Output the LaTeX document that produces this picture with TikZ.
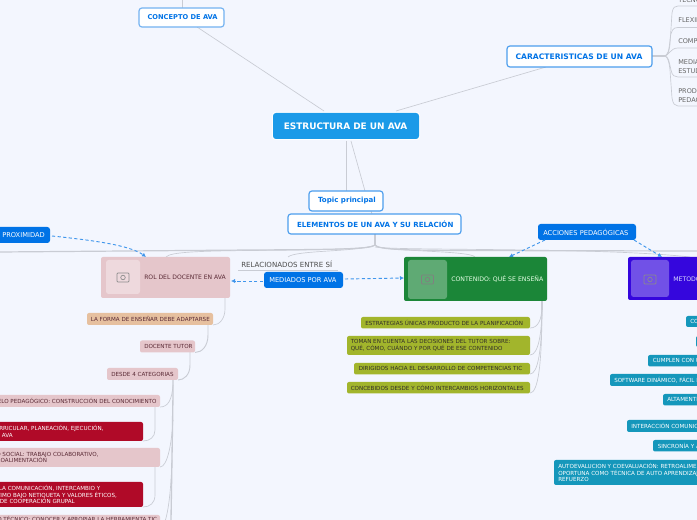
\documentclass[tikz,border=0pt]{standalone}
\usepackage{fontspec}
\setmainfont{DejaVu Sans}
\usetikzlibrary{arrows.meta}
\definecolor{bgc}{HTML}{F3F6FE}
\definecolor{linec}{HTML}{C9CCD4}
\definecolor{bluec}{HTML}{0073E6}
\definecolor{rootc}{HTML}{1B9AE8}
\definecolor{pinkc}{HTML}{E5C6CB}
\definecolor{pinkt}{HTML}{5A2A35}
\definecolor{redc}{HTML}{B00A28}
\definecolor{oliv}{HTML}{A2B52C}
\definecolor{tealc}{HTML}{1597BB}
\definecolor{sand}{HTML}{E6C09F}
\definecolor{greenc}{HTML}{1B8638}
\definecolor{violc}{HTML}{3506DD}
\tikzset{
 x=0.75pt,y=-0.75pt,
 link/.style={draw=linec,line width=0.5pt},
 dashlink/.style={draw=bluec!75!white,line width=0.7pt,dash pattern=on 2.4pt off 1.8pt,-{Latex[length=3pt,width=3.2pt]}},
 topbox/.style={draw=bluec!70!white,line width=0.9pt,fill=white,rounded corners=2.2pt,text=bluec,font=\bfseries\fontsize{#1}{6}\selectfont},
 blueb/.style={fill=bluec,text=white,rounded corners=2pt,font=\fontsize{5}{6}\selectfont},
 smallf/.style={rounded corners=1.5pt,font=\fontsize{4.2}{4.9}\selectfont},
 pinkb/.style={smallf,fill=pinkc,text=pinkt},
 redb/.style={smallf,fill=redc,text=white},
 olivb/.style={smallf,fill=oliv,text=black!85!olive},
 tealb/.style={smallf,fill=tealc,text=white},
 sandb/.style={smallf,fill=sand,text=pinkt},
 graytxt/.style={text=black!60,font=\fontsize{4.9}{6.5}\selectfont},
}
\newcommand{\bx}[8]{% name, x1,y1,x2,y2, style, text-x, text
 \path[#6] (#2,#3) rectangle (#4,#5);
 \node[anchor=west,inner sep=0,align=left,#6,draw=none,fill=none,rounded corners=0pt] (#1) at (#7,{(#3+#5)/2}) {#8};}
\newcommand{\cam}[3]{\draw[#3,line width=0.5pt,rounded corners=0.6pt] (#1-6,#2-4) rectangle (#1+6,#2+5);\draw[#3,line width=0.5pt] (#1,#2+0.5) circle (1.7pt);}
\begin{document}
\begin{tikzpicture}
\clip (0,0) rectangle (697,520);
\fill[bgc] (0,0) rectangle (697,520);
% connectors around root
\coordinate (cTop1) at (182,0);
\coordinate (cRight) at (697,251);
\coordinate (cLeft) at (0,252);
\draw[link] (cTop1) -- (182,8);
\draw[link] (197,27) -- (324,111);
\draw[link] (396,111) -- (546,67);
\draw[link] (346.5,141) -- (346.5,191);
\draw[link] (351,141) -- (365,191);
\draw[link] (371,211) -- (372,214);
% trunk from ELEMENTOS
\draw[link,line width=1.1pt] (375,234) -- (375,245);
\draw[link,line width=0.9pt] (375,245) .. controls (372,249) and (340,249.5) .. (250,250) -- (cLeft);
\draw[link,line width=0.9pt] (375,245) .. controls (378,250) and (410,250) .. (450,250.5) -- (cRight);
\draw[link] (375,245) .. controls (370,250) and (300,250) .. (250,250.5) .. controls (200,251) and (170,252) .. (166,257);
\draw[link] (375,245) .. controls (378,252) and (470,250) .. (475,257);
\draw[link] (375,245) .. controls (360,252) and (295,250) .. (288,257);
\draw[link] (375,247) .. controls (400,251) and (600,247) .. (690,257);
% right upper connectors
\draw[link,line width=0.9pt] (652,56) -- (664,56);
\draw[link] (664,56) .. controls (668,56) and (669,52) .. (670,44) -- (672,13) .. controls (673,7) and (675,6) .. (678,6) -- (697,6);
\draw[link] (664,56) .. controls (668,56) and (669,50) .. (670,40) .. controls (671,30) and (673,27.5) .. (678,27.5) -- (697,27.5);
\draw[link] (664,56) .. controls (669,56) and (670,48) .. (678,48) -- (697,48);
\draw[link] (664,56) .. controls (669,56) and (669,62) .. (671,70) .. controls (672,76) and (675,77) .. (678,77) -- (697,77);
\draw[link] (664,56) .. controls (668,56) and (669,62) .. (670,70) -- (672,98) .. controls (673,104) and (675,106) .. (678,106) -- (697,106);
% left chain
\draw[link] (225,298) -- (225,309) .. controls (225,318) and (220,325) .. (213,325);
\draw[link,line width=0.7pt] (208,325) -- (208,335) .. controls (208,346) and (202,352.5) .. (195,352.5);
\draw[link,line width=0.7pt] (190,352) -- (190,365) .. controls (190,375) and (184,380) .. (178,380);
\draw[link,line width=1pt] (173,380) -- (173,395) -- (171,520);
\draw[link] (173,385) .. controls (172,400) and (168,407) .. (160,407);
\draw[link] (155,407) -- (155,430) .. controls (155,437) and (150,441) .. (143,441);
\draw[link] (173,420) .. controls (172,440) and (168,467) .. (160,467);
\draw[link] (155,467) -- (155,495) .. controls (155,503) and (150,507) .. (143,507);
\draw[link] (172,460) .. controls (171,490) and (168,525) .. (160,530);
% green connectors
\draw[link,line width=0.8pt] (542,301) -- (542,310);
\draw[link] (542,305) .. controls (542,320) and (538,328) .. (530,328);
\draw[link] (542,305) .. controls (542,335) and (538,355) .. (530,355);
\draw[link] (542,305) .. controls (542,350) and (538,374) .. (530,374);
\draw[link] (542,305) .. controls (542,365) and (538,393) .. (530,393);
% relacionados underline
\draw[link] (238,270.5) -- (338,270.5);
% main nodes
\fill[white,rounded corners=2.5pt] (272,112) rectangle (420,140);
\bx{a}{273}{113}{419}{139}{fill=rootc,text=white,rounded corners=2.2pt,font=\bfseries\fontsize{6.7}{8}\selectfont}{283.5}{ESTRUCTURA DE UN AVA}
\bx{b}{139}{8}{224}{27}{topbox=5.0,draw=bluec!55!white}{147}{CONCEPTO DE AVA}
\bx{c}{507}{46}{652}{67}{topbox=5.7}{515}{CARACTERISTICAS DE UN AVA}
\bx{d}{309}{191}{383}{211}{topbox=5.3}{317.5}{Topic principal}
\bx{e}{288}{214}{461}{234}{topbox=5.3}{296.5}{ELEMENTOS DE UN AVA Y SU RELACIÓN}
% dashed
\coordinate (arrRol) at (146,257);
\coordinate (arrRolR) at (231,281);
\coordinate (arrCont) at (404,278);
\coordinate (arrCont2) at (509,257);
\coordinate (arrMet) at (662,257);
\bx{f}{-20}{227}{50}{243}{blueb}{2}{PROXIMIDAD}
\bx{g}{264}{272}{343}{288}{blueb}{269}{MEDIADOS POR AVA}
\bx{h}{538}{224}{636}{240}{blueb}{543}{ACCIONES PEDAGÓGICAS}
\draw[dashlink] (52,236) .. controls (90,240) and (130,245) .. (arrRol);
\draw[dashlink] (263,281) -- (arrRolR);
\draw[dashlink] (345,279) -- (arrCont);
\draw[dashlink] (545,240) -- (arrCont2);
\draw[dashlink] (634,240) -- (arrMet);
\node[anchor=west,inner sep=0,text=black!70,font=\fontsize{5.3}{6}\selectfont] (rel) at (241,264.5) {RELACIONADOS ENTRE SÍ};
% ROL
\bx{r}{101}{257}{230}{298}{pinkb,font=\fontsize{4.55}{5}\selectfont}{144}{ROL DEL DOCENTE EN AVA}
\fill[white,opacity=.35,rounded corners=2pt] (106,260) rectangle (140,294);
\cam{123}{277}{draw=black!45}
\bx{r1}{87}{313}{213}{325}{sandb}{90.5}{LA FORMA DE ENSEÑAR DEBE ADAPTARSE}
\bx{r2}{140}{340.5}{195}{352.5}{pinkb}{144}{DOCENTE TUTOR}
\bx{r3}{107}{368}{178}{380}{pinkb}{111}{DESDE 4 CATEGORIAS}
\bx{r4}{-30}{395}{160}{407}{pinkb}{-16}{MODELO PEDAGÓGICO: CONSTRUCCIÓN DEL CONOCIMIENTO}
\bx{r5}{-30}{422}{143}{441}{redb}{-9}{CURRICULAR, PLANEACIÓN, EJECUCIÓN,\\\hspace*{8pt}AVA}
\bx{r6}{-30}{448}{160}{467}{pinkb}{-24}{MODELO SOCIAL: TRABAJO COLABORATIVO,\\DE RETROALIMENTACIÓN}
\bx{r7}{-30}{482}{143}{507}{redb}{-11}{DE LA COMUNICACIÓN, INTERCAMBIO Y\\ÓPTIMO BAJO NETIQUETA Y VALORES ÉTICOS,\\\hspace*{8pt}DE COOPERACIÓN GRUPAL}
\path[pinkb] (-30,515) rectangle (160,535);
\bx{r8}{-30}{515}{160}{523}{pinkb,fill=none}{-23}{MODELO TÉCNICO: CONOCER Y APROPIAR LA HERRAMIENTA TIC}
% CONTENIDO
\bx{s}{404}{257}{547}{301}{smallf,fill=greenc,text=white!90!green,font=\fontsize{4.65}{5}\selectfont}{451}{CONTENIDO: QUÉ SE ENSEÑA}
\fill[white,opacity=.3,rounded corners=2pt] (408,260) rectangle (447,299);
\cam{427.5}{279}{draw=black!50}
\bx{s1}{361}{317}{530}{328.5}{olivb}{365}{ESTRATEGIAS ÚNICAS PRODUCTO DE LA PLANIFICACIÓN}
\bx{s2}{347}{336}{530}{355}{olivb}{350.5}{TOMAN EN CUENTA LAS DECISIONES DEL TUTOR SOBRE:\\QUÉ, CÓMO, CUÁNDO Y POR QUÉ DE ESE CONTENIDO}
\bx{s3}{354}{363}{530}{374.5}{olivb}{358.5}{DIRIGIDOS HACIA EL DESARROLLO DE COMPETENCIAS TIC}
\bx{s4}{347}{382}{530}{393.5}{olivb}{350.5}{CONCEBIDOS DESDE Y CÓMO INTERCAMBIOS HORIZONTALES}
% METODO
\bx{m}{628}{257}{760}{300}{smallf,fill=violc,text=white!85!blue,font=\fontsize{4.65}{5}\selectfont}{673}{METODOLOGÍA}
\fill[white,opacity=.3,rounded corners=2pt] (631,260) rectangle (669,297);
\cam{650}{279}{draw=black!45}
\bx{t1}{686}{316}{800}{327}{tealb}{690}{CONTENIDOS}
\path[tealb] (696,336) rectangle (800,347);
\bx{t3}{648}{355}{800}{366.5}{tealb}{652.5}{CUMPLEN CON UN}
\bx{t4}{610}{374}{800}{386}{tealb}{614}{SOFTWARE DINÁMICO, FÁCIL DE USAR}
\bx{t5}{663}{394}{800}{405.5}{tealb}{667}{ALTAMENTE}
\bx{t6}{627}{420}{800}{432}{tealb}{631}{INTERACCIÓN COMUNICATIVA}
\bx{t7}{653}{440}{800}{451.5}{tealb}{657.5}{SINCRONÍA Y ASINCRONÍA}
\bx{t8}{554}{460}{800}{485}{tealb}{558}{AUTOEVALUCION Y COEVALUACIÓN: RETROALIMENTACIÓN\\OPORTUNA COMO TÉCNICA DE AUTO APRENDIZAJE\\REFUERZO}
% right top labels
\node[anchor=west,inner sep=0,align=left,graytxt] (u1) at (678,0) {TECNOLOGÍA};
\node[anchor=west,inner sep=0,align=left,graytxt] (u2) at (678,20.5) {FLEXIBILIDAD};
\node[anchor=west,inner sep=0,align=left,graytxt] (u3) at (678,41.5) {COMPLEMENTO};
\node[anchor=west,inner sep=0,align=left,graytxt] (u4) at (678,66.3) {MEDIADOR\\ESTUDIANTE};
\node[anchor=west,inner sep=0,align=left,graytxt] (u5) at (678,95.3) {PRODUCTO\\PEDAGÓGICO};
\end{tikzpicture}
\end{document}
